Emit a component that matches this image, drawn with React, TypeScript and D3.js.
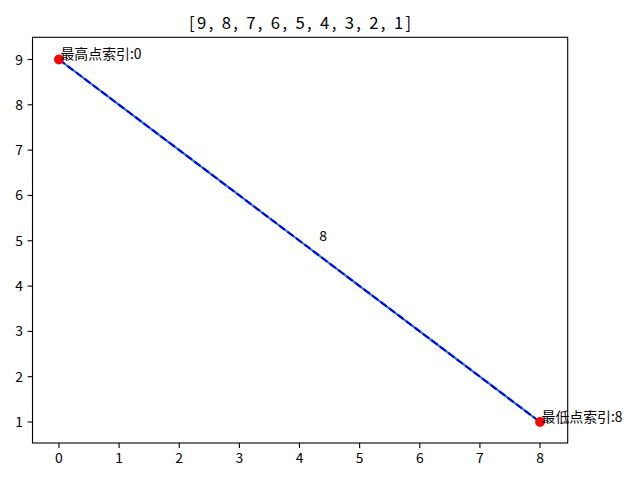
import React from 'react';
import * as d3 from 'd3';

// values plotted against their index
const values: number[] = [9, 8, 7, 6, 5, 4, 3, 2, 1];
const xTicks: number[] = [0, 1, 2, 3, 4, 5, 6, 7, 8];
const yTicks: number[] = [1, 2, 3, 4, 5, 6, 7, 8, 9];
const title = '[9, 8, 7, 6, 5, 4, 3, 2, 1]';
const maxLabel = '最高点索引:';
const minLabel = '最低点索引:';
const midText = '8';
const midTextAt: [number, number] = [4.33, 5];

const width = 640;
const height = 480;
const frame = { left: 32.5, right: 567.7, top: 37.3, bottom: 443 };
const font = '"Noto Sans CJK SC", "DejaVu Sans", sans-serif';

const App = () => {
  const xScale = d3.scaleLinear().domain([-0.44, 8.46]).range([frame.left, frame.right]);
  const yScale = d3.scaleLinear().domain([0.537, 9.49]).range([frame.bottom, frame.top]);

  const points = values.map((v, i) => [i, v] as [number, number]);
  const line = d3.line<[number, number]>()
    .x(d => xScale(d[0]))
    .y(d => yScale(d[1]));

  const maxIdx = d3.maxIndex(values);
  const minIdx = d3.minIndex(values);

  return (
    <>
      <style>{'body{margin:0}'}</style>
      <svg width={width} height={height} viewBox={`0 0 ${width} ${height}`}
        style={{ display: 'block', fontFamily: font }}>
        <rect width={width} height={height} fill="#fff" />
        <text x={(frame.left + frame.right) / 2} y={29} fontSize={16.7}
          textAnchor="middle" textLength={222} lengthAdjust="spacing">{title}</text>

        <g className="line">
          <path d={line(points) || ''} fill="none" stroke="#1f77b4" strokeWidth={2.08} />
          <path d={line(points) || ''} fill="none" stroke="#0000ff" strokeWidth={2.08}
            strokeDasharray="7.4 3.2" />
        </g>

        <g className="points">
          {[maxIdx, minIdx].map(i => (
            <circle key={i} cx={xScale(i)} cy={yScale(values[i])} r={4.9} fill="#ff0000" />
          ))}
        </g>

        <g className="labels" fontSize={13.9}>
          <text x={xScale(maxIdx) + 1.5} y={yScale(values[maxIdx]) - 0.5}>{maxLabel + maxIdx}</text>
          <text x={xScale(minIdx) + 1.5} y={yScale(values[minIdx]) - 0.5}>{minLabel + minIdx}</text>
          <text x={xScale(midTextAt[0])} y={yScale(midTextAt[1])}>{midText}</text>
        </g>

        <g className="axis" fontSize={13.9}>
          {xTicks.map(t => (
            <g key={t}>
              <line x1={xScale(t)} x2={xScale(t)} y1={frame.bottom} y2={frame.bottom + 4.9}
                stroke="#000" strokeWidth={1.1} />
              <text x={xScale(t)} y={463} textAnchor="middle">{t}</text>
            </g>
          ))}
          {yTicks.map(t => (
            <g key={t}>
              <line x1={frame.left - 4.9} x2={frame.left} y1={yScale(t)} y2={yScale(t)}
                stroke="#000" strokeWidth={1.1} />
              <text x={23} y={yScale(t)} dy="0.36em" textAnchor="end">{t}</text>
            </g>
          ))}
          <rect x={frame.left} y={frame.top} width={frame.right - frame.left}
            height={frame.bottom - frame.top} fill="none" stroke="#000" strokeWidth={1.1} />
        </g>
      </svg>
    </>
  );
};

export default App;
